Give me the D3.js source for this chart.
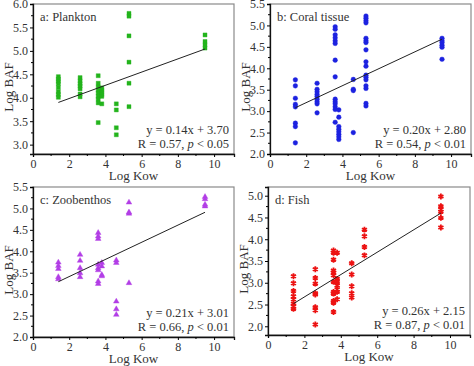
<!DOCTYPE html>
<html>
<head>
<meta charset="utf-8">
<script src="https://cdn.jsdelivr.net/npm/d3@7"></script>
<style>
  body { margin: 0; background: #fff; }
  svg text { font-family: "Liberation Serif", "Times New Roman", "DejaVu Serif", serif; }
</style>
</head>
<body>
<svg width="474" height="366"></svg>
<script>
// Log Kow columns (x positions shared by all panels)
var kowColumns = [1.4, 2.6, 3.6, 3.8, 4.6, 5.3, 9.5];

// Log BAF values per column
var planktonBAF = [
  [4.45, 4.40, 4.35, 4.30, 4.22, 4.13, 4.07, 4.01],
  [4.43, 4.36, 4.30, 4.25, 4.19, 4.08, 4.02],
  [4.47, 4.31, 4.23, 4.16, 4.10, 4.03, 3.97, 3.89, 3.47],
  [4.21, 4.16, 4.12, 4.07, 4.03, 3.87],
  [3.87, 3.74, 3.36, 3.21],
  [5.80, 5.74, 5.32, 4.76, 4.31, 3.81],
  [5.34, 5.20, 5.13, 5.06]
];
var coralBAF = [
  [3.73, 3.59, 3.30, 3.16, 3.10, 2.72, 2.64, 2.26],
  [3.65, 3.51, 3.45, 3.39, 3.34, 3.28, 3.22, 3.17, 2.96],
  [4.97, 4.91, 4.78, 4.71, 4.64, 4.58, 4.19, 3.80, 3.28, 3.22, 3.17, 3.10, 3.04, 2.74],
  [3.03, 2.86, 2.64, 2.58, 2.52, 2.46, 2.40, 2.34],
  [3.74, 3.51, 3.48, 2.50],
  [5.22, 5.17, 5.11, 5.06, 4.70, 4.64, 4.60, 4.43, 4.15, 4.05, 3.84, 3.79, 3.73, 3.59, 3.53, 3.18, 3.12],
  [4.70, 4.64, 4.60, 4.54, 4.49, 4.21]
];
var zoobenthosBAF = [
  [3.74, 3.66, 3.59, 3.40, 3.35],
  [3.92, 3.78, 3.61, 3.49, 3.40],
  [4.43, 4.35, 4.29, 3.69, 3.61, 3.56, 3.30, 3.24],
  [3.73, 3.65, 3.45, 3.42],
  [3.79, 3.73, 2.83, 2.65, 2.52],
  [5.14, 4.91, 4.88, 3.26],
  [5.27, 5.22, 5.09, 5.05]
];
var fishBAF = [
  [3.15, 2.99, 2.81, 2.69, 2.62, 2.52, 2.46, 2.40],
  [3.31, 3.11, 2.98, 2.76, 2.73, 2.44, 2.37, 2.04],
  [3.74, 3.69, 3.53, 3.28, 3.23, 3.17, 3.02, 2.79, 2.75, 2.58, 2.54, 2.33],
  [3.69, 3.09, 3.02, 2.94, 2.85, 2.79, 2.62],
  [3.45, 3.19, 2.92, 2.76, 2.66],
  [4.22, 4.07, 3.82, 3.63],
  [4.98, 4.76, 4.69, 4.63, 4.49, 4.27]
];

// fitted lines: Log BAF at the first and last column, as drawn
var fitStart = [3.90, 3.08, 3.29, 2.52];
var fitEnd = [5.04, 4.68, 4.91, 4.60];

var panelTitles = ["a: Plankton", "b: Coral tissue", "c: Zoobenthos", "d: Fish"];
var equations = ["y = 0.14x + 3.70", "y = 0.20x + 2.80", "y = 0.21x + 3.01", "y = 0.26x + 2.15"];
var stats = [["0.57", "0.05"], ["0.54", "0.01"], ["0.66", "0.01"], ["0.87", "0.01"]];
var xTicks = [0, 2, 4, 6, 8, 10];
var yTickSets = [
  [3.0, 3.5, 4.0, 4.5, 5.0, 5.5, 6.0],
  [2.0, 2.5, 3.0, 3.5, 4.0, 4.5, 5.0, 5.5],
  [2.0, 2.5, 3.0, 3.5, 4.0, 4.5, 5.0, 5.5],
  [2.0, 2.5, 3.0, 3.5, 4.0, 4.5, 5.0]
];
var yDomains = [[2.8, 6.0], [2.0, 5.5], [2.0, 5.5], [1.8, 5.2]];

var seriesData = [planktonBAF, coralBAF, zoobenthosBAF, fishBAF];
var colors = ["#23b41c", "#1c22e0", "#b23ee6", "#ec1212"];

// panel frames
var frames = [
  {left: 33, right: 234, top: 4, bottom: 154},
  {left: 270, right: 471, top: 4, bottom: 154},
  {left: 33, right: 234, top: 187, bottom: 337},
  {left: 268, right: 470, top: 187, bottom: 335}
];

var serif = "'Liberation Serif', 'Times New Roman', serif";
var svg = d3.select("svg");

frames.forEach(function(f, i) {
  var x = d3.scaleLinear().domain([0, 11.1]).range([f.left, f.right]);
  var y = d3.scaleLinear().domain(yDomains[i]).range([f.bottom, f.top]);
  var g = svg.append("g");
  var col = colors[i];

  // frame (top/right lighter)
  g.append("rect")
    .attr("x", f.left).attr("y", f.top)
    .attr("width", f.right - f.left).attr("height", f.bottom - f.top)
    .attr("fill", "none").attr("stroke", "#8a8a8a").attr("stroke-width", 1.2);

  // x axis
  var xAxis = g.append("g")
    .attr("transform", "translate(0," + f.bottom + ")")
    .call(d3.axisBottom(x).tickValues(xTicks).tickSize(3).tickPadding(2).tickFormat(d3.format("d")));
  xAxis.selectAll("line.minor")
    .data([1, 3, 5, 7, 9]).enter().append("line")
    .attr("class", "minor")
    .attr("x1", function(d) { return x(d); }).attr("x2", function(d) { return x(d); })
    .attr("y1", 0).attr("y2", 2).attr("stroke", "#000");

  // y axis
  var yt = yTickSets[i];
  var yAxis = g.append("g")
    .attr("transform", "translate(" + f.left + ",0)")
    .call(d3.axisLeft(y).tickValues(yt).tickSize(3).tickPadding(2).tickFormat(d3.format(".1f")));
  var minors = yt.slice(0, -1).map(function(v) { return v + 0.25; });
  yAxis.selectAll("line.minor")
    .data(minors).enter().append("line")
    .attr("class", "minor")
    .attr("y1", function(d) { return y(d); }).attr("y2", function(d) { return y(d); })
    .attr("x1", 0).attr("x2", -2).attr("stroke", "#000");

  [xAxis, yAxis].forEach(function(a) {
    a.attr("font-family", null);
    a.select(".domain").attr("stroke", "#111").attr("stroke-width", 1.3);
    a.selectAll("text").attr("font-size", 12).style("font-family", serif).attr("fill", "#333");
  });

  // axis titles
  g.append("text")
    .attr("x", (f.left + f.right) / 2).attr("y", f.bottom + 26)
    .attr("text-anchor", "middle").attr("font-size", 13).attr("fill", "#333")
    .style("font-family", serif)
    .text("Log Kow");
  g.append("text")
    .attr("transform", "translate(" + (f.left - 20) + "," + ((f.top + f.bottom) / 2 + 8) + ") rotate(-90)")
    .attr("text-anchor", "middle").attr("font-size", 13).attr("fill", "#333")
    .style("font-family", serif)
    .text("Log BAF");

  // points
  var pts = [];
  seriesData[i].forEach(function(vals, c) {
    vals.forEach(function(v) { pts.push({kow: kowColumns[c], baf: v}); });
  });
  var sym;
  if (i === 0) sym = d3.symbol().type(d3.symbolSquare).size(16);
  else if (i === 1) sym = d3.symbol().type(d3.symbolCircle).size(17);
  else if (i === 2) sym = d3.symbol().type(d3.symbolTriangle).size(14);
  else sym = d3.symbol().type(d3.symbolAsterisk).size(24);

  g.selectAll("path.pt")
    .data(pts).enter().append("path")
    .attr("class", "pt")
    .attr("d", sym)
    .attr("transform", function(d) { return "translate(" + x(d.kow) + "," + y(d.baf) + ")"; })
    .attr("fill", i === 3 ? "none" : col)
    .attr("stroke", col)
    .attr("stroke-width", i === 3 ? 1.8 : 0.4);

  // fit line
  g.append("line")
    .attr("x1", x(kowColumns[0])).attr("y1", y(fitStart[i]))
    .attr("x2", x(kowColumns[kowColumns.length - 1])).attr("y2", y(fitEnd[i]))
    .attr("stroke", "#222").attr("stroke-width", 1);

  // labels
  g.append("text")
    .attr("x", f.left + 7).attr("y", f.top + 17)
    .attr("font-size", 12.5).attr("fill", "#333")
    .style("font-family", serif)
    .text(panelTitles[i]);
  g.append("text")
    .attr("x", f.right - 5).attr("y", f.bottom - 20)
    .attr("text-anchor", "end").attr("font-size", 12.5).attr("fill", "#333")
    .style("font-family", serif)
    .text(equations[i]);
  var r = g.append("text")
    .attr("x", f.right - 5).attr("y", f.bottom - 6)
    .attr("text-anchor", "end").attr("font-size", 12.5).attr("fill", "#333")
    .style("font-family", serif);
  r.append("tspan").text("R = " + stats[i][0] + ", ");
  r.append("tspan").attr("font-style", "italic").text("p");
  r.append("tspan").text(" < " + stats[i][1]);
});
</script>
</body>
</html>
